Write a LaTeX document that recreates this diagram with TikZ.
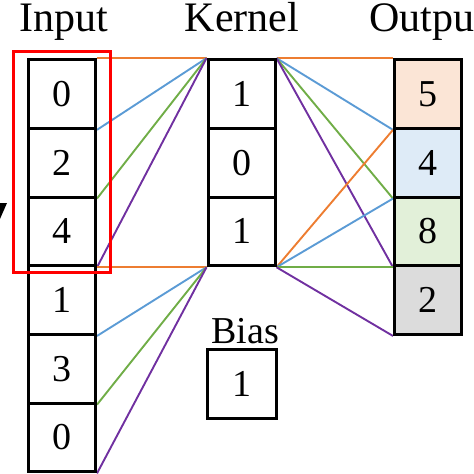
\documentclass[tikz,border=0pt]{standalone}
\usepackage{fontspec}
\setmainfont{Liberation Serif}
\usetikzlibrary{backgrounds}
\definecolor{korange}{HTML}{ED7D31}
\definecolor{kblue}{HTML}{5B9BD5}
\definecolor{kgreen}{HTML}{70AD47}
\definecolor{kpurple}{HTML}{7030A0}
\definecolor{opeach}{HTML}{FBE5D6}
\definecolor{oblue}{HTML}{DEEBF7}
\definecolor{ogreen}{HTML}{E2F0D9}
\definecolor{ogray}{HTML}{DCDCDC}
\tikzset{cell/.style={draw,line width=3pt,minimum width=67pt,minimum height=68.7pt,inner sep=0pt,font=\fontsize{38}{39}\selectfont},
  title/.style={anchor=base,inner sep=0pt,font=\fontsize{42}{43}\selectfont},
  wire/.style={line width=1.9pt}}

\begin{document}
\begin{tikzpicture}[x=1pt,y=-1pt]
\useasboundingbox (0,0) rectangle (474,474);
      \node[title] (tin) at (64,31) {Input};
      \node[title] (tk) at (242,31) {Kernel};
      \node[title] (tout) at (428,31) {Output};
      \node (i1) [cell] at (62,94) {0};
      \node (i2) [cell] at (62,162.7) {2};
      \node (i3) [cell] at (62,231.4) {4};
      \node (i4) [cell] at (62,300.1) {1};
      \node (i5) [cell] at (62,368.8) {3};
      \node (i6) [cell] at (62,437.5) {0};
      \node (k1) [cell] at (241.5,94) {1};
      \node (k2) [cell] at (241.5,162.7) {0};
      \node (k3) [cell] at (241.5,231.4) {1};
      \node (o1) [cell,fill=opeach] at (428,94) {5};
      \node (o2) [cell,fill=oblue] at (428,162.7) {4};
      \node (o3) [cell,fill=ogreen] at (428,231.4) {8};
      \node (o4) [cell,fill=ogray] at (428,300.1) {2};
      \node[title,font=\fontsize{38}{39}\selectfont] (tb) at (245,343) {Bias};
      \node (b) [cell,minimum height=69pt,minimum width=69pt] at (241.5,383.5) {1};
      \draw[red,line width=3pt] (13,51) rectangle (110,272);
      \fill (-17,203) -- (7,203) -- (-4,228) -- cycle;

\begin{scope}[on background layer]
\foreach \a/\c in {i1.north/korange,i1.south/kblue,i2.south/kgreen,i3.south/kpurple}
  \draw[wire,\c] (k1.north west) -- (\a\space east);
\foreach \a/\c in {i3.south/korange,i4.south/kblue,i5.south/kgreen,i6.south/kpurple}
  \draw[wire,\c] (k3.south west) -- (\a\space east);
\foreach \a/\c in {o1.north/korange,o1.south/kblue,o2.south/kgreen,o3.south/kpurple}
  \draw[wire,\c] (k1.north east) -- (\a\space west);
\foreach \a/\c in {o1.south/korange,o2.south/kblue,o3.south/kgreen,o4.south/kpurple}
  \draw[wire,\c] (k3.south east) -- (\a\space west);
\end{scope}
\end{tikzpicture}
\end{document}
